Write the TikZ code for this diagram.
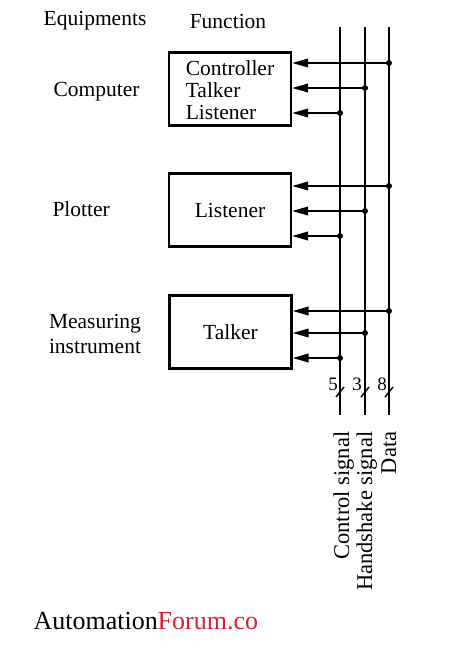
\documentclass[tikz,border=0pt]{standalone}
\usepackage{fontspec}
\setmainfont{Liberation Serif}
\usetikzlibrary{arrows.meta, positioning}
\definecolor{forumred}{RGB}{222,28,52}

\begin{document}
\begin{tikzpicture}[x=1pt, y=-1pt, >={Triangle[length=16pt,width=8.5pt]},
                    font=\fontsize{21.5}{25}\selectfont,
                    unit/.style={draw, line width=2.2pt, minimum width=122pt, minimum height=73pt, inner sep=0pt},
                    bus/.style={line width=2pt},
                    tap/.style={circle, fill, inner sep=0pt, minimum size=6pt},
                    busname/.style={rotate=90, anchor=base east, font=\fontsize{22.5}{25}\selectfont},
                    width/.style={font=\fontsize{19}{21}\selectfont}]

    \useasboundingbox (0,0) rectangle (474,655);

    % headings and equipment names
    \node (equip) at (95,21) {Equipments};
    \node (func) at (228,21) {Function};
    \node[anchor=west] (computer) at (50,92) {Computer};
    \node[anchor=west] (plotter) at (49,209) {Plotter};
    \node[align=center] (meter) at (95,334) {Measuring\\instrument};

    % function boxes
    \node[unit] (cbox) at (230,89) {};
    \node[align=left, font=\fontsize{21.5}{22}\selectfont] (cfunc) at (230,90) {Controller\\Talker\\Listener};
    \node[unit] (pbox) at (230,210) {Listener};
    \node[unit] (mbox) at (230.5,332) {Talker};

    % bus lines
    \coordinate (ctop) at (340,27);  \coordinate (cbot) at (340,415);
    \coordinate (htop) at (365,27);  \coordinate (hbot) at (365,415);
    \coordinate (dtop) at (389,27);  \coordinate (dbot) at (389,415);
    \draw[bus] (ctop) -- (cbot);
    \draw[bus] (htop) -- (hbot);
    \draw[bus] (dtop) -- (dbot);

    % taps: data, handshake, control
    \node[tap] (cd) at (389,63) {};
    \node[tap] (ch) at (365,88) {};
    \node[tap] (cc) at (340,113) {};
    \node[tap] (pd) at (389,186) {};
    \node[tap] (ph) at (365,211) {};
    \node[tap] (pc) at (340,236) {};
    \node[tap] (md) at (389,311) {};
    \node[tap] (mh) at (365,333) {};
    \node[tap] (mc) at (340,358) {};

    \foreach \t/\b in {cd/cbox, ch/cbox, cc/cbox, pd/pbox, ph/pbox, pc/pbox, md/mbox, mh/mbox, mc/mbox}
        \draw[bus, ->] (\t.center) -- (\t -| \b.east);

    % line counts
    \foreach \x in {340, 365, 389}
        \draw[line width=1.4pt] (\x-4,397) -- (\x+4,387);
    \node[width] (n5) at (333,384) {5};
    \node[width] (n3) at (357,384) {3};
    \node[width] (n8) at (382,384) {8};

    % bus names
    \node[busname] (cname) at (349,428) {Control signal};
    \node[busname] (hname) at (372,428) {Handshake signal};
    \node[busname] (dname) at (396,428) {Data};

    \node[anchor=base west, font=\fontsize{26}{30}\selectfont] (site) at (30,629) {Automation\textcolor{forumred}{Forum.co}};
\end{tikzpicture}
\end{document}
